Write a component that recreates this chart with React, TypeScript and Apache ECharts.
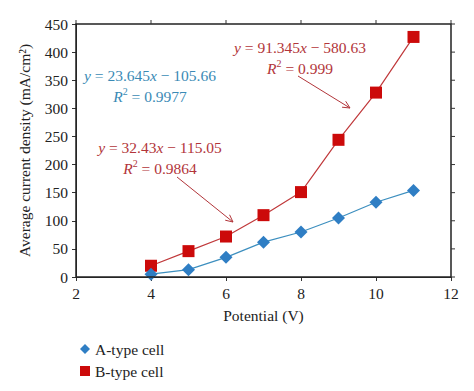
import React, { useEffect, useRef } from "react";
import * as echarts from "echarts";

const potentials = [4, 5, 6, 7, 8, 9, 10, 11];
const aTypeValues = [5, 13, 35, 62, 80, 105, 133, 154];
const bTypeValues = [20, 46, 72, 110, 151, 244, 328, 427];
const seriesNames = ["A-type cell", "B-type cell"];
const xTicks = [2, 4, 6, 8, 10, 12];
const yTicks = [0, 50, 100, 150, 200, 250, 300, 350, 400, 450];

const FONT = "Liberation Serif";
const BLUE = "#2f7ec4";
const BLUE_LINE = "#3d8fbf";
const RED = "#cc0a0a";
const RED_LINE = "#c0393b";
const BLUE_TEXT = "#3a8ab5";
const RED_TEXT = "#b2353a";
const AXIS = "#333";
const FS = 15.5;

function eqText(x: number, y: number, parts: string, color: string) {
  return {
    type: "text",
    x,
    y,
    style: {
      text: parts,
      fill: color,
      font: `${FS}px "${FONT}"`,
      align: "center",
      verticalAlign: "middle",
      rich: {
        i: { fontStyle: "italic", fontFamily: FONT, fontSize: FS, fill: color },
        n: { fontFamily: FONT, fontSize: FS, fill: color },
        s: { fontFamily: FONT, fontSize: 10, fill: color, verticalAlign: "top", padding: [0, 0, 9, 0] },
      },
    },
  };
}

function arrow(x1: number, y1: number, x2: number, y2: number, color: string) {
  const ang = Math.atan2(y2 - y1, x2 - x1);
  const len = 8;
  const spread = 0.45;
  const p1 = [x2 - len * Math.cos(ang - spread), y2 - len * Math.sin(ang - spread)];
  const p2 = [x2 - len * Math.cos(ang + spread), y2 - len * Math.sin(ang + spread)];
  return [
    { type: "line", shape: { x1, y1, x2, y2 }, style: { stroke: color, lineWidth: 1 } },
    { type: "polyline", shape: { points: [p1, [x2, y2], p2] }, style: { stroke: color, lineWidth: 1, fill: null } },
  ];
}

export default function App() {
  const ref = useRef<HTMLDivElement>(null);
  useEffect(() => {
    if (!ref.current) return;
    const chart = echarts.init(ref.current, null, { renderer: "svg" });
    const axisLine = { show: true, onZero: false, lineStyle: { color: AXIS, width: 1 } };
    const axisTick = { show: true, inside: false, length: 4, lineStyle: { color: AXIS } };
    const axisLabel = { color: "#222", fontFamily: FONT, fontSize: FS };
    const nameStyle = { fontFamily: FONT, fontSize: FS, color: "#222" };
    const annotations = [
      eqText(150, 75, "{i|y}{n| = 23.645}{i|x}{n| − 105.66}", BLUE_TEXT),
      eqText(150, 96, "{i|R}{s|2}{n| = 0.9977}", BLUE_TEXT),
      eqText(300, 47, "{i|y}{n| = 91.345}{i|x}{n| − 580.63}", RED_TEXT),
      eqText(300, 68, "{i|R}{s|2}{n| = 0.999}", RED_TEXT),
      eqText(160, 147, "{i|y}{n| = 32.43}{i|x}{n| − 115.05}", RED_TEXT),
      eqText(160, 168, "{i|R}{s|2}{n| = 0.9864}", RED_TEXT),
      ...arrow(298, 76, 350, 108, RED_TEXT),
      ...arrow(177, 177, 233, 222, RED_TEXT),
    ];
    chart.setOption({
      animation: false,
      backgroundColor: "#fff",
      textStyle: { fontFamily: FONT },
      grid: { left: 76, right: 23, top: 24, bottom: 114 },
      legend: {
        orient: "vertical",
        left: 75,
        top: 336,
        itemGap: 6,
        itemWidth: 10,
        itemHeight: 10,
        textStyle: { fontFamily: FONT, fontSize: FS, color: "#222" },
        data: [
          { name: seriesNames[0], icon: "diamond" },
          { name: seriesNames[1], icon: "rect" },
        ],
      },
      xAxis: {
        type: "value",
        min: xTicks[0],
        max: xTicks[xTicks.length - 1],
        interval: 2,
        name: "Potential (V)",
        nameLocation: "middle",
        nameGap: 30,
        nameTextStyle: nameStyle,
        axisLine,
        axisTick,
        axisLabel,
        splitLine: { show: false },
      },
      yAxis: {
        type: "value",
        min: yTicks[0],
        max: yTicks[yTicks.length - 1],
        interval: 50,
        name: "Average current density (mA/cm²)",
        nameLocation: "middle",
        nameGap: 44,
        nameTextStyle: nameStyle,
        axisLine,
        axisTick,
        axisLabel,
        splitLine: { show: false },
      },
      series: [
        {
          name: seriesNames[0],
          type: "line",
          data: potentials.map((p, i) => [p, aTypeValues[i]]),
          symbol: "diamond",
          symbolSize: 13,
          itemStyle: { color: BLUE },
          lineStyle: { color: BLUE_LINE, width: 1.2 },
          z: 3,
        },
        {
          name: seriesNames[1],
          type: "line",
          data: potentials.map((p, i) => [p, bTypeValues[i]]),
          symbol: "rect",
          symbolSize: 12,
          itemStyle: { color: RED },
          lineStyle: { color: RED_LINE, width: 1.2 },
          z: 2,
        },
      ],
      graphic: annotations,
    });

    const x0 = chart.convertToPixel({ xAxisIndex: 0 }, xTicks[0]) as number;
    const x1 = chart.convertToPixel({ xAxisIndex: 0 }, xTicks[xTicks.length - 1]) as number;
    const yTop = chart.convertToPixel({ yAxisIndex: 0 }, yTicks[yTicks.length - 1]) as number;
    const yBot = chart.convertToPixel({ yAxisIndex: 0 }, yTicks[0]) as number;
    const frame: any[] = [
      {
        type: "rect",
        z: 100,
        shape: { x: x0, y: yTop, width: x1 - x0, height: yBot - yTop },
        style: { stroke: "#222", lineWidth: 1.5, fill: "none" },
        silent: true,
      },
    ];
    xTicks.forEach((t) => {
      const px = chart.convertToPixel({ xAxisIndex: 0 }, t) as number;
      frame.push({ type: "line", z: 100, shape: { x1: px, y1: yTop, x2: px, y2: yTop - 4 }, style: { stroke: AXIS, lineWidth: 1 } });
    });
    yTicks.forEach((t) => {
      const py = chart.convertToPixel({ yAxisIndex: 0 }, t) as number;
      frame.push({ type: "line", z: 100, shape: { x1: x1, y1: py, x2: x1 + 4, y2: py }, style: { stroke: AXIS, lineWidth: 1 } });
    });
    chart.setOption({ graphic: [...annotations, ...frame] });
    return () => chart.dispose();
  }, []);
  return <div ref={ref} style={{ width: 474, height: 391, position: "absolute", left: 0, top: 0 }} />;
}
